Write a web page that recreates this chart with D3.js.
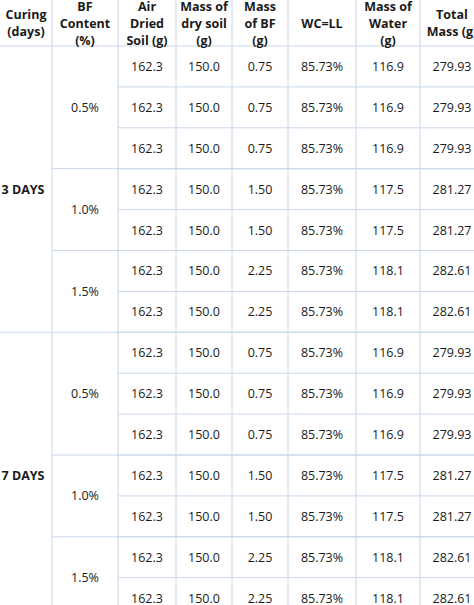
<!DOCTYPE html><html><head><meta charset="utf-8"><script src="https://cdn.jsdelivr.net/npm/d3@7"></script>
<style>body{margin:0;background:#fff}</style></head><body><svg id="c" width="474" height="605"></svg>
<script>
const headers=[["Curing","(days)"],["BF","Content","(%)"],["Air","Dried","Soil (g)"],["Mass of","dry soil","(g)"],["Mass","of BF","(g)"],["WC=LL"],["Mass of","Water","(g)"],["Total","Mass (g)"]];
const curing=["3 DAYS","7 DAYS"];
const bfContent=["0.5%","1.0%","1.5%"];
const groupSizes=[3,2,2];
const airDried=[162.3,162.3,162.3,162.3,162.3,162.3,162.3,162.3,162.3,162.3,162.3,162.3,162.3,162.3];
const drySoil=[150.0,150.0,150.0,150.0,150.0,150.0,150.0,150.0,150.0,150.0,150.0,150.0,150.0,150.0];
const massBF=[0.75,0.75,0.75,1.50,1.50,2.25,2.25,0.75,0.75,0.75,1.50,1.50,2.25,2.25];
const wcll=["85.73%","85.73%","85.73%","85.73%","85.73%","85.73%","85.73%","85.73%","85.73%","85.73%","85.73%","85.73%","85.73%","85.73%"];
const water=[116.9,116.9,116.9,117.5,117.5,118.1,118.1,116.9,116.9,116.9,117.5,117.5,118.1,118.1];
const total=[279.93,279.93,279.93,281.27,281.27,282.61,282.61,279.93,279.93,279.93,281.27,281.27,282.61,282.61];

const svg=d3.select("#c");
const colEdges=[0,52,118,176,232,288,356,420,484];
const y=d3.scaleLinear().domain([0,14]).range([46,46+14*40.9]);
const lc="#c9d6ea",font="Open Sans, Liberation Sans, sans-serif",tc="#1a1a1a";
const cx=i=>(colEdges[i]+colEdges[i+1])/2;
// vertical lines
colEdges.slice(1,-1).forEach(x=>svg.append("line").attr("x1",x).attr("x2",x).attr("y1",0).attr("y2",605).attr("stroke",lc));
// header
svg.append("line").attr("x1",0).attr("x2",474).attr("y1",46).attr("y2",46).attr("stroke",lc);
headers.forEach((h,i)=>{const t=svg.append("text").attr("x",cx(i)).attr("text-anchor","middle").attr("font-family",font).attr("font-size",12.5).attr("font-weight","bold").attr("fill",tc);
 const n=h.length,y0=23-(n-1)*8.5;h.forEach((s,k)=>t.append("tspan").attr("x",cx(i)).attr("y",y0+k*17+4.5).text(s));});
// rows
const rows=d3.range(14).map(i=>[airDried[i].toFixed(1),drySoil[i].toFixed(1),massBF[i].toFixed(2),wcll[i],water[i].toFixed(1),total[i].toFixed(2)]);
rows.forEach((r,i)=>{r.forEach((v,j)=>svg.append("text").attr("x",cx(j+2)).attr("y",y(i+0.5)+4.5).attr("text-anchor","middle").attr("font-family",font).attr("font-size",12.5).attr("fill",tc).text(v));
 if(i>0) svg.append("line").attr("x1",118).attr("x2",474).attr("y1",y(i)).attr("y2",y(i)).attr("stroke",lc);});
let r0=0;
curing.forEach((c,ci)=>{const start=r0;
 groupSizes.forEach((g,gi)=>{svg.append("text").attr("x",cx(1)).attr("y",y(r0+g/2)+4.5).attr("text-anchor","middle").attr("font-family",font).attr("font-size",12.5).attr("fill",tc).text(bfContent[gi]);
  if(r0>start) svg.append("line").attr("x1",52).attr("x2",474).attr("y1",y(r0)).attr("y2",y(r0)).attr("stroke",lc);
  r0+=g;});
 if(start>0) svg.append("line").attr("x1",0).attr("x2",474).attr("y1",y(start)).attr("y2",y(start)).attr("stroke",lc);
 svg.append("text").attr("x",cx(0)-3).attr("y",y((start+r0)/2)+4.5).attr("text-anchor","middle").attr("font-family",font).attr("font-size",12.5).attr("font-weight","bold").attr("fill",tc).text(c);
});
</script></body></html>
